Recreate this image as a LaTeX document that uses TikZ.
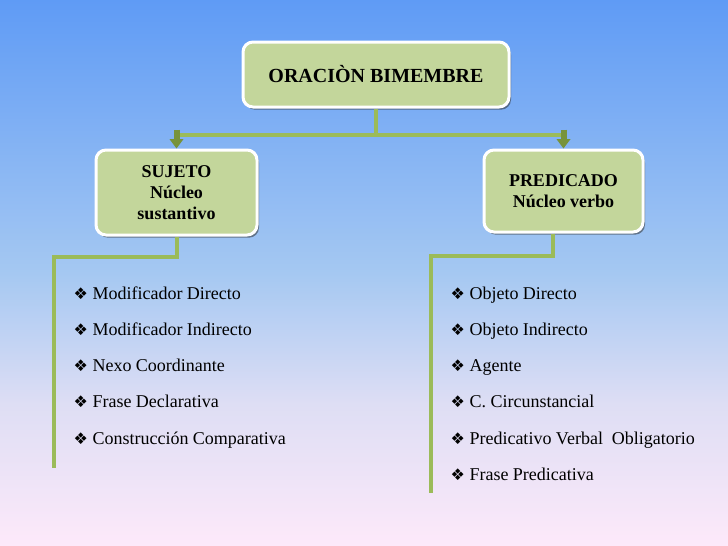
\documentclass[tikz,border=0pt]{standalone}
\usepackage{fontspec}
\setmainfont{Liberation Serif}
\newfontfamily\dejavu{DejaVu Sans}
\usetikzlibrary{arrows.meta,shadows}

\definecolor{bgtop}{RGB}{95,155,245}
\definecolor{bgmid}{RGB}{165,200,242}
\definecolor{bglow}{RGB}{222,222,244}
\definecolor{bgbot}{RGB}{253,233,250}
\definecolor{boxgreen}{RGB}{195,214,155}
\definecolor{linkgreen}{RGB}{155,187,89}
\definecolor{arrowgreen}{RGB}{119,147,60}

% the path is fitted to the middle half of the shading (25bp to 75bp)
\pgfdeclareverticalshading{slidebg}{100bp}{color(0bp)=(bgbot); color(25bp)=(bgbot); color(38bp)=(bglow); color(50bp)=(bgmid); color(75bp)=(bgtop); color(100bp)=(bgtop)}

\newcommand{\itembullet}{{\dejavu\fontsize{12}{12}\selectfont ❖}\hspace{3.5pt}}

\tikzset{every picture/.style={line width=0.75pt}}
\tikzset{
  greenbox/.style={draw=white, line width=2.25pt, fill=boxgreen, rounded corners=7.5pt,
    align=center, font=\fontsize{13.5}{16}\selectfont\bfseries,
    drop shadow={shadow xshift=1.5pt, shadow yshift=-2pt, opacity=0.55, fill=black!80}},
  link/.style={draw=linkgreen, line width=3pt},
  blockarrow/.style={draw=arrowgreen, line width=4.5pt, -{Triangle[width=10pt,length=7pt]}},
  item/.style={anchor=base west, inner sep=0pt, font=\fontsize{13.5}{16}\selectfont}
}

\begin{document}
\begin{tikzpicture}[x=0.75pt,y=0.75pt,yscale=-1,xscale=1]
	\useasboundingbox (0,0) rectangle (728,546);

	%Shape: Background
	\shade[shading=slidebg] (0,0) rectangle (728,546);

	%Shape: Boxes
	\node[greenbox, minimum width=199.5pt, minimum height=48.75pt, font=\fontsize{15}{18}\selectfont\bfseries] (oracion) at (376,74.5) {ORACIÒN BIMEMBRE};
	\node[greenbox, minimum width=120.75pt, minimum height=63.75pt] (sujeto) at (176.5,192.5) {SUJETO\\Núcleo\\sustantivo};
	\node[greenbox, minimum width=119.25pt, minimum height=61.5pt] (predicado) at (563.5,191) {PREDICADO\\Núcleo verbo};

	%Straight Lines: fork
	\draw[link] (oracion.south) -- ++(0,26) coordinate (fork);
	\draw[link] (sujeto.north |- fork) -- (predicado.north |- fork);
	\draw[blockarrow] (sujeto.north |- fork) ++(0,-5) -- (sujeto.north);
	\draw[blockarrow] (predicado.north |- fork) ++(0,-5) -- (predicado.north);

	%Straight Lines: list rails
	\coordinate (sujend) at (54,468);
	\coordinate (predend) at (431,493);
	\draw[link] (sujeto.south) -- ++(0,20) -| (sujend);
	\draw[link] ([xshift=-8.25pt]predicado.south) -- ++(0,22) -| (predend);

	% Text Nodes: sujeto
	\foreach \txt [count=\i] in {Modificador Directo, Modificador Indirecto, Nexo Coordinante, Frase Declarativa, Construcción Comparativa}
		\node[item] (suj\i) at (73,262.7+36.3*\i) {\itembullet\txt};

	% Text Nodes: predicado
	\foreach \txt [count=\i] in {Objeto Directo, Objeto Indirecto, Agente, C. Circunstancial, Predicativo Verbal\ \ Obligatorio, Frase Predicativa}
		\node[item] (pred\i) at (450,262.7+36.3*\i) {\itembullet\txt};

\end{tikzpicture}
\end{document}
